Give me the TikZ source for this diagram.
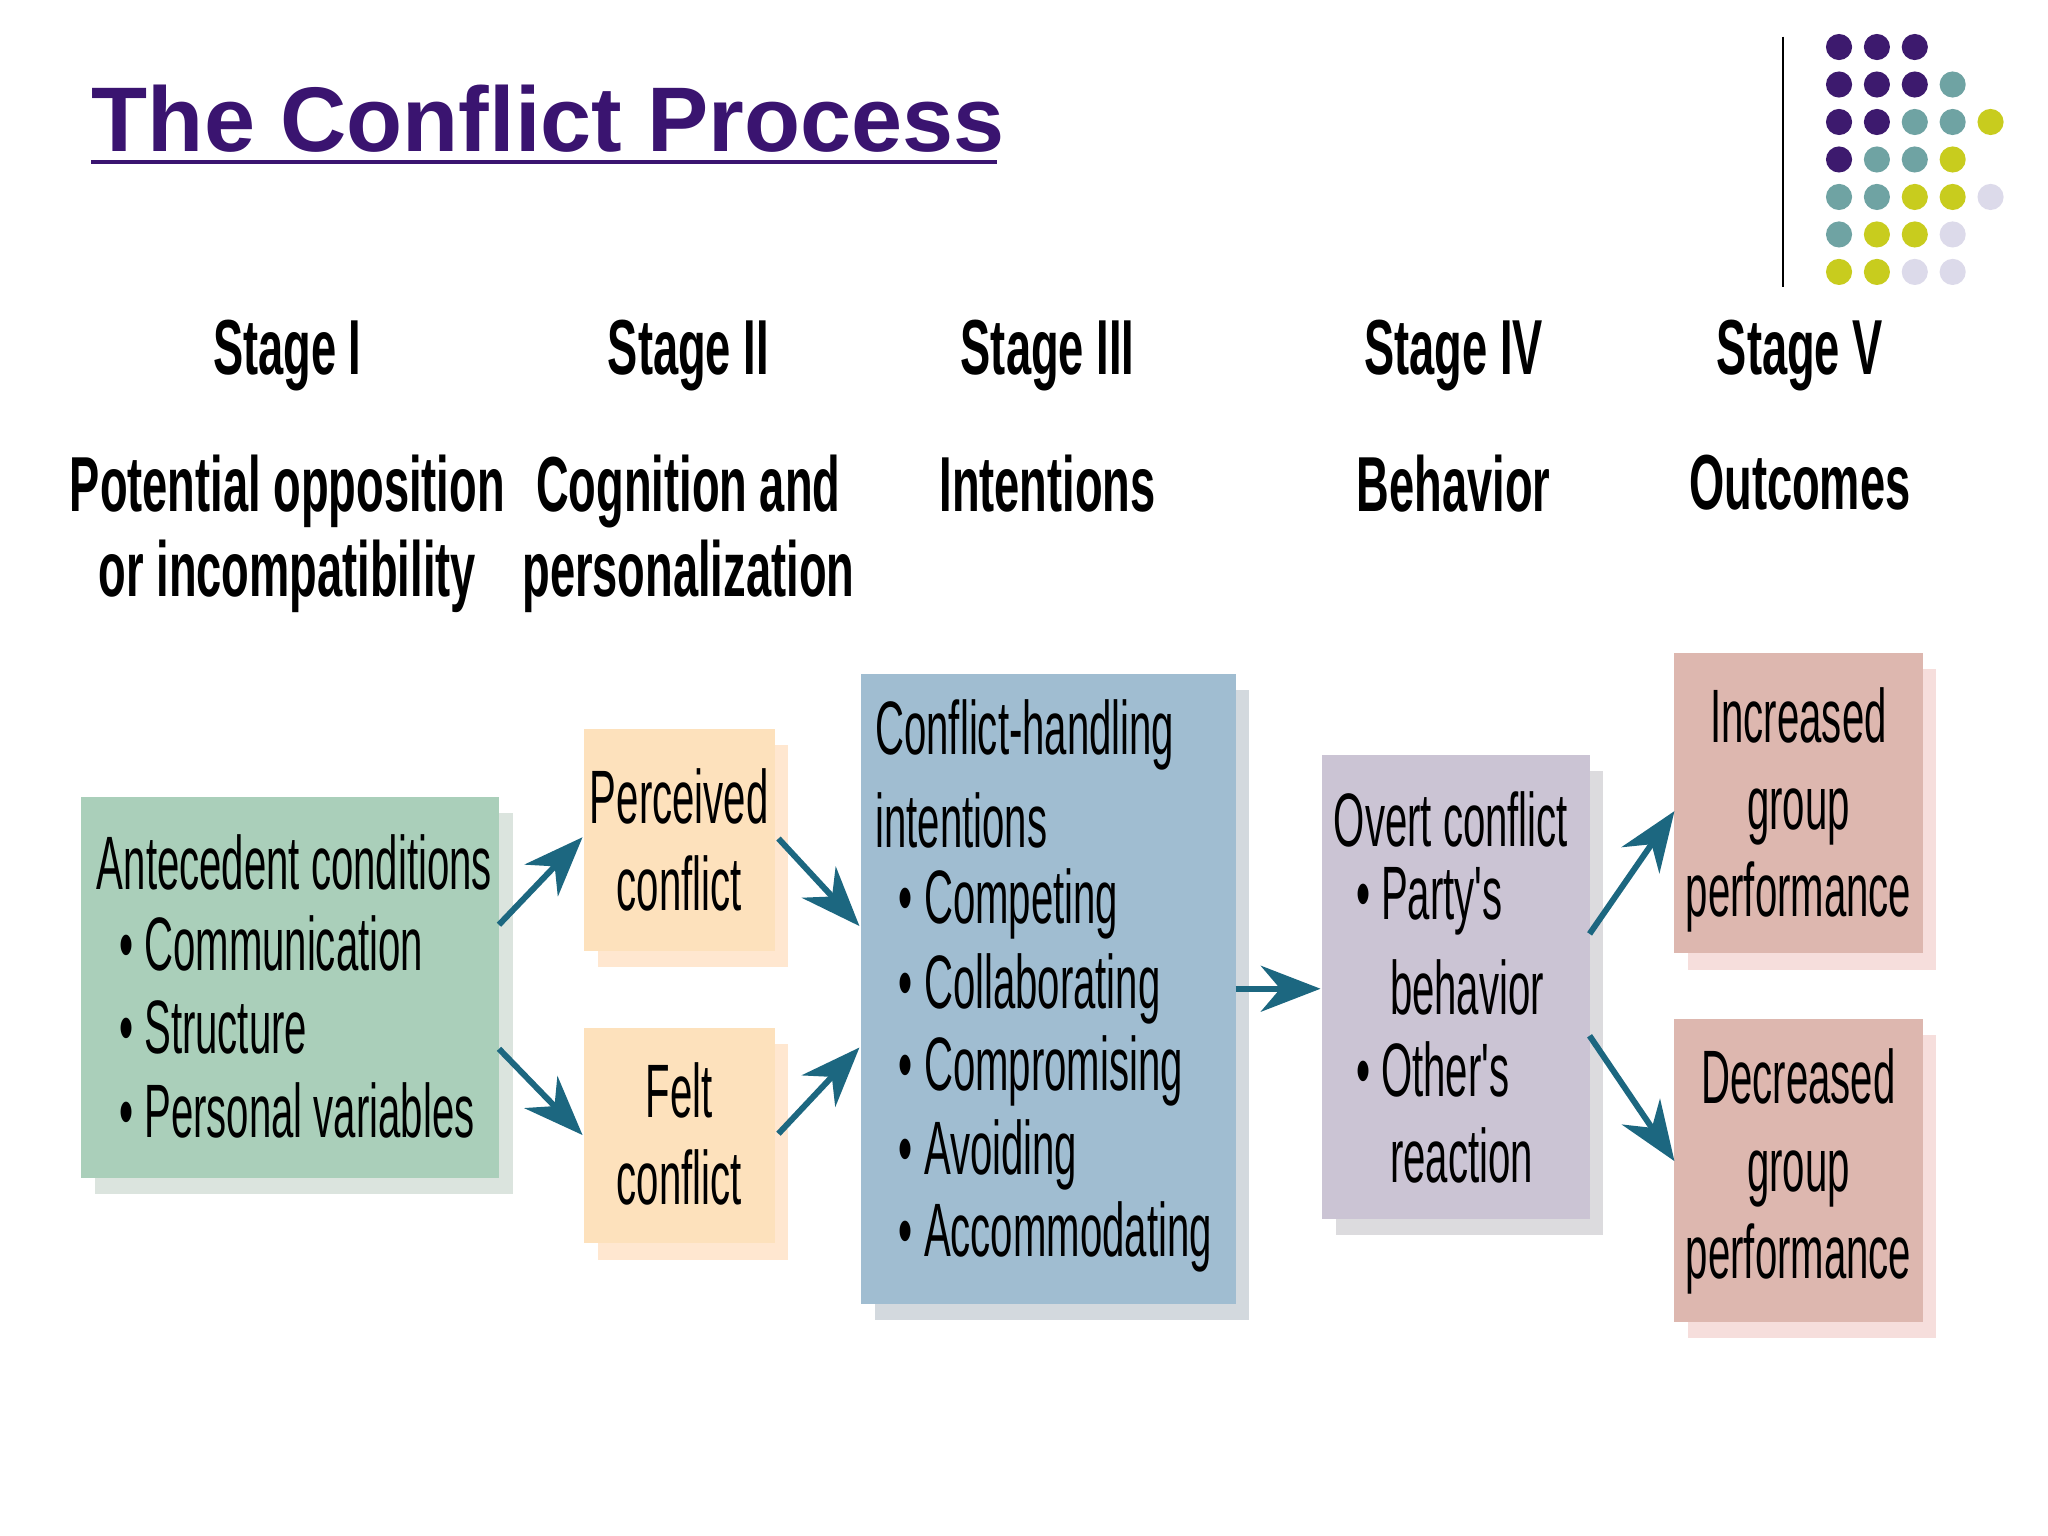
\documentclass[tikz,border=0pt]{standalone}
\usepackage{fontspec}
\setmainfont{Liberation Sans}
\newfontfamily\condh[FakeStretch=0.58]{Liberation Sans}
\newfontfamily\condt[FakeStretch=0.53]{Liberation Sans}
\usetikzlibrary{arrows.meta,shadows}
\definecolor{ttl}{HTML}{3A1470}
\definecolor{dP}{HTML}{3D1A6E}
\definecolor{dT}{HTML}{6FA3A3}
\definecolor{dY}{HTML}{C8CC1E}
\definecolor{dL}{HTML}{DCDAEA}
\definecolor{gbox}{HTML}{AACFBA}
\definecolor{obox}{HTML}{FDE1BC}
\definecolor{bbox}{HTML}{A0BDD1}
\definecolor{lbox}{HTML}{CBC4D4}
\definecolor{pbox}{HTML}{DDB7AF}
\definecolor{arr}{HTML}{1C6780}
\begin{document}
\begin{tikzpicture}[x=0.02cm,y=-0.02cm,
 bx/.style 2 args={fill=#1,drop shadow={shadow xshift=6pt,shadow yshift=-7pt,opacity=0.3,fill=#2}},
 head/.style={font=\condh\bfseries\fontsize{34}{37}\selectfont,align=center},
 txt/.style={font=\condt\fontsize{33}{40}\selectfont,anchor=west},
 ctxt/.style={font=\condt\fontsize{33}{38}\selectfont},
 ar/.style={draw=arr,line width=2.6pt,-{Stealth[length=26pt,width=20pt]}}]
\useasboundingbox (0,0) rectangle (1568,1176);
\fill[white] (0,0) rectangle (1568,1176);
% title
\node[anchor=base west,inner sep=0,text=ttl,font=\bfseries\fontsize{40}{46}\selectfont] (title) at (70,116) {The Conflict Process};
\draw[ttl,line width=2pt] (70,124) -- (763,124);
% divider and dots
\draw[line width=1pt] (1365,28) -- (1365,220);
\foreach \r/\row in {0/{P,P,P},1/{P,P,P,T},2/{P,P,T,T,Y},3/{P,T,T,Y},4/{T,T,Y,Y,L},5/{T,Y,Y,L},6/{Y,Y,L,L}}{
  \foreach \c [count=\i from 0] in \row {
    \fill[d\c] (1408+29*\i,36+28.7*\r) circle (10);
  }
}
% headings
\foreach \x/\s/\t [count=\k] in {220/Stage I/{Potential opposition\\or incompatibility},527/Stage II/{Cognition and\\personalization},802/Stage III/Intentions,1113/Stage IV/Behavior,1378/Stage V/Outcomes}{
  \node[head] (s\k) at (\x,272) {\s};
  \node[head,anchor=north] (h\k) at (\x,342) {\t};
}
% boxes
\path[bx={gbox}{gbox!80!black}] (62,610) rectangle (382,902);
\path[bx={obox}{orange!60}] (447,558) rectangle (593,728);
\path[bx={obox}{orange!60}] (447,787) rectangle (593,952);
\path[bx={bbox}{bbox!70!black}] (659,516) rectangle (946,998);
\path[bx={lbox}{lbox!70!black}] (1012,578) rectangle (1217,933);
\path[bx={pbox}{pbox!80!red}] (1282,500) rectangle (1472,730);
\path[bx={pbox}{pbox!80!red}] (1282,780) rectangle (1472,1012);
% texts
\node[txt] (g1) at (68,660) {Antecedent conditions};
\node[txt] (g2) at (85,722) {\textbullet\ Communication};
\node[txt] (g3) at (85,787) {\textbullet\ Structure};
\node[txt] (g4) at (85,850) {\textbullet\ Personal variables};
\node[ctxt,align=center] (pc) at (520,643) {Perceived\\conflict};
\node[ctxt,align=center] (fc) at (520,868) {Felt\\conflict};
\node[txt] (b1) at (664,563) {Conflict-handling};
\node[txt] (b2) at (664,628) {intentions};
\node[txt] (b3) at (682,692) {\textbullet\ Competing};
\node[txt] (b4) at (682,757) {\textbullet\ Collaborating};
\node[txt] (b5) at (682,820) {\textbullet\ Compromising};
\node[txt] (b6) at (682,884) {\textbullet\ Avoiding};
\node[txt] (b7) at (682,947) {\textbullet\ Accommodating};
\node[txt] (l1) at (1015,627) {Overt conflict};
\node[txt] (l2) at (1032,690) {\textbullet\ Party's};
\node[txt] (l3) at (1058,756) {behavior};
\node[txt] (l4) at (1032,819) {\textbullet\ Other's};
\node[txt] (l5) at (1058,885) {reaction};
\node[ctxt,align=center] (o1) at (1377,620) {Increased\\group\\performance};
\node[ctxt,align=center] (o2) at (1377,897) {Decreased\\group\\performance};
% arrow endpoints
\coordinate (a1s) at (382,708); \coordinate (a1e) at (446,641);
\coordinate (a2s) at (382,803); \coordinate (a2e) at (446,869);
\coordinate (a3s) at (596,642); \coordinate (a3e) at (658,709);
\coordinate (a4s) at (596,868); \coordinate (a4e) at (658,802);
\coordinate (a5s) at (946,757); \coordinate (a5e) at (1011,757);
\coordinate (a6s) at (1217,715); \coordinate (a6e) at (1282,621);
\coordinate (a7s) at (1217,793); \coordinate (a7e) at (1282,889);
\foreach \i in {1,...,7} \draw[ar] (a\i s) -- (a\i e);
\end{tikzpicture}
\end{document}
